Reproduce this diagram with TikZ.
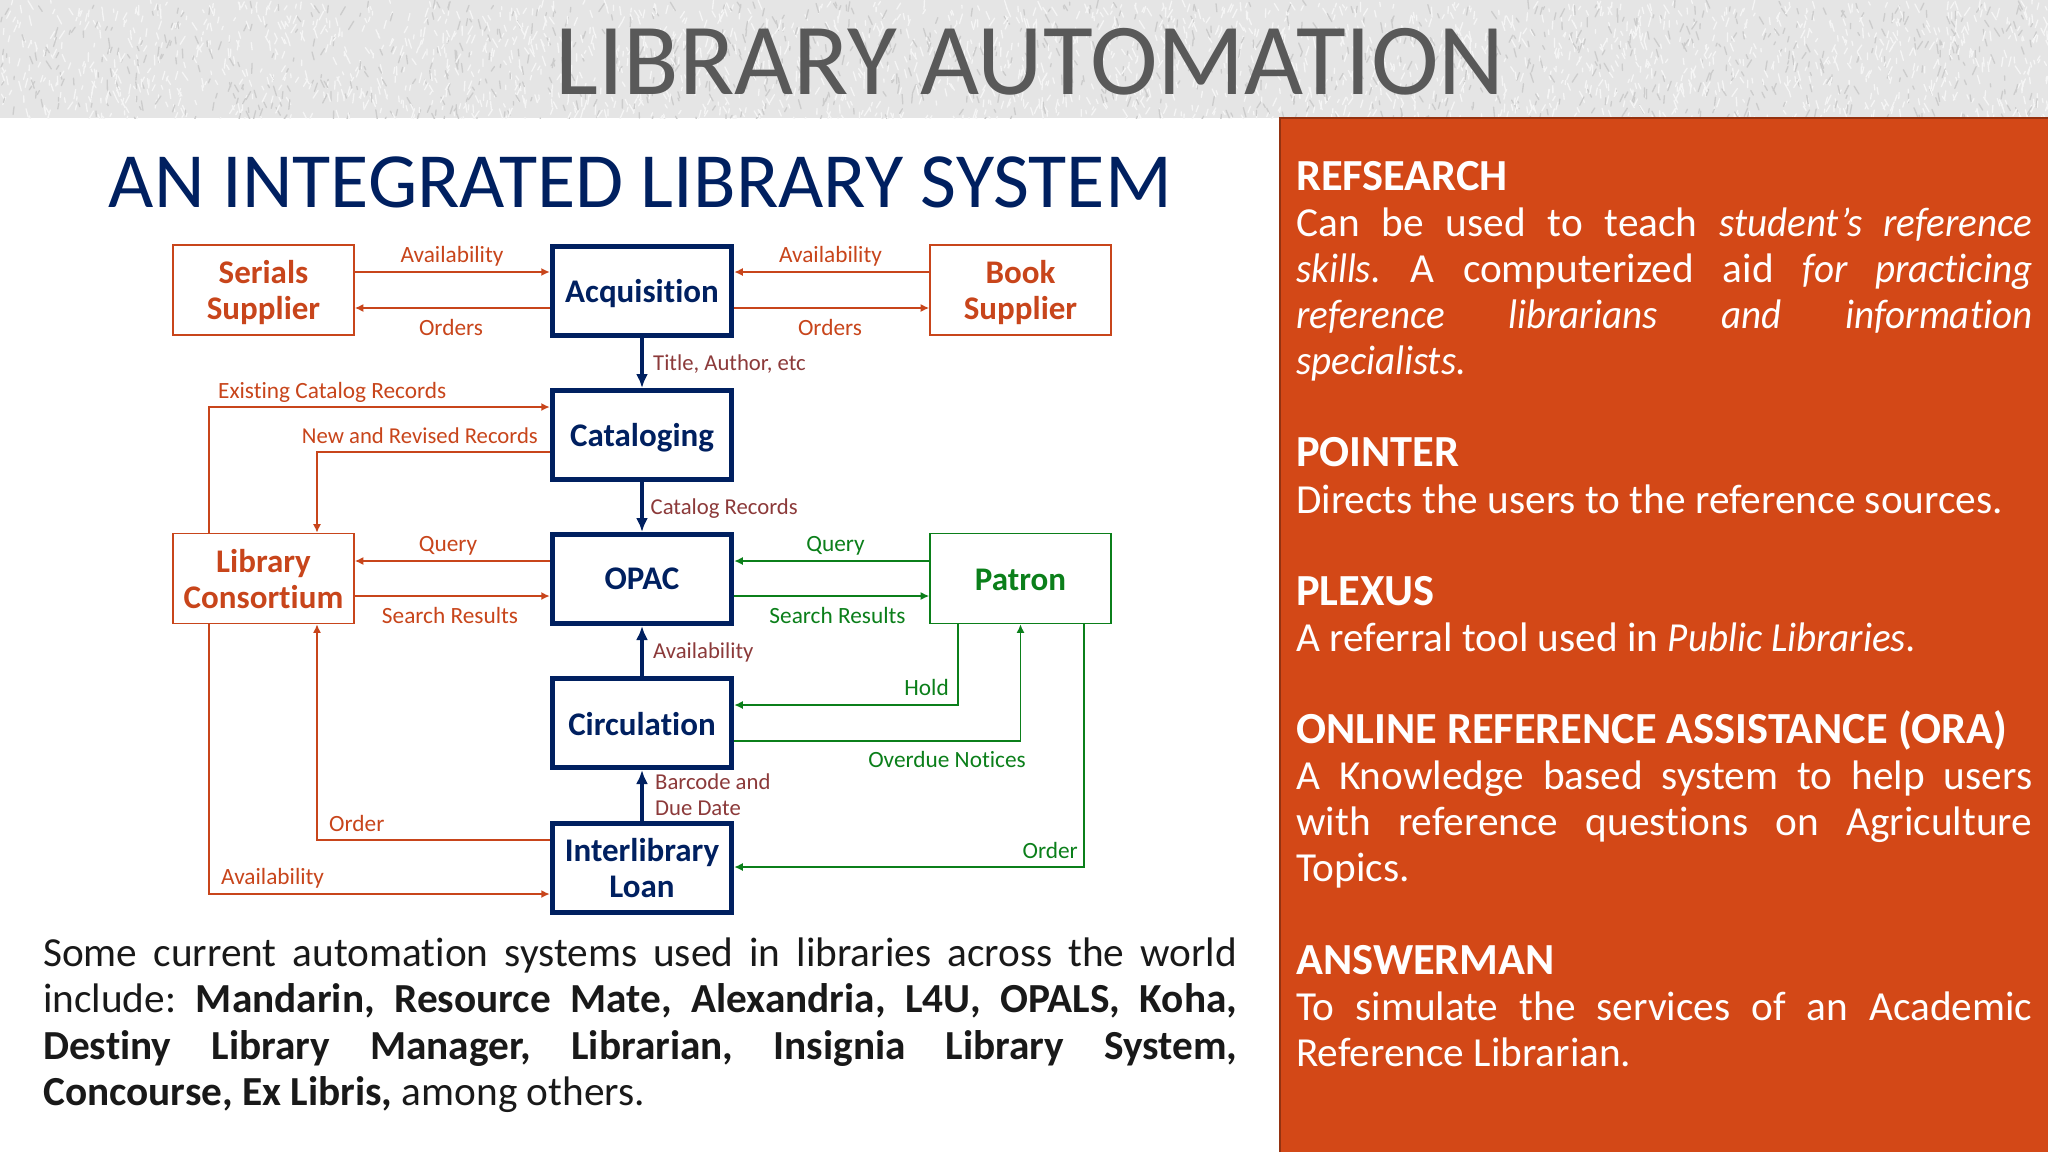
\documentclass[tikz,border=0pt]{standalone}
\usepackage{fontspec}
\setmainfont[Ligatures=NoCommon,ItalicFeatures={FakeStretch=0.945}]{Carlito}
\frenchspacing
\usetikzlibrary{arrows.meta}
\definecolor{navy}{HTML}{002060}
\definecolor{rust}{HTML}{C8451B}
\definecolor{panel}{HTML}{D34817}
\definecolor{grn}{HTML}{0B7F1A}
\definecolor{maroon}{HTML}{8C3A3A}
\definecolor{titlegray}{HTML}{595959}
\newcommand{\jl}[2][736]{\makebox[#1pt][s]{#2}}
\newcommand{\dn}[2][2.5]{\raisebox{-#1pt}[\height][\depth]{#2}}
\newcommand{\hd}[1]{{\fontsize{44.4}{46.1}\selectfont\bfseries #1}}
\tikzset{
 x=1pt,y=-1pt,
 nbox/.style={draw=navy,line width=5pt,minimum width=179.5pt,minimum height=89pt,inner sep=0pt,align=center,text=navy,font=\fontsize{33}{36}\selectfont\bfseries},
 obox/.style={draw=rust,line width=1.6pt,minimum width=181pt,minimum height=90pt,inner sep=0pt,align=center,text=rust,font=\fontsize{33}{36}\selectfont\bfseries},
 gbox/.style={draw=grn,line width=1.6pt,minimum width=181pt,minimum height=90pt,inner sep=0pt,align=center,text=grn,font=\fontsize{33}{36}\selectfont\bfseries},
 lab/.style={inner sep=0pt,font=\fontsize{23.3}{25}\selectfont},
 olab/.style={lab,text=rust},
 glab/.style={lab,text=grn},
 mlab/.style={inner sep=0pt,font=\fontsize{22.7}{25}\selectfont,text=maroon},
 oarr/.style={draw=rust,line width=1.5pt,-{Latex[length=8.5pt,width=8pt]}},
 garr/.style={draw=grn,line width=1.5pt,-{Latex[length=8.5pt,width=8pt]}},
 narr/.style={draw=navy,line width=3.5pt,-{Latex[length=14pt,width=12pt]}},
 body/.style={inner sep=0pt,align=left,anchor=north west,font=\fontsize{41.3}{46.1}\selectfont},
}
\begin{document}
\begin{tikzpicture}
\useasboundingbox (0,0) rectangle (2048,1152);
\fill[white] (0,0) rectangle (2048,1152);
% textured band
\fill[black!10] (0,0) rectangle (2048,118);
\pgfmathsetseed{42}
\begin{scope}
\clip (0,0) rectangle (2048,118);
\foreach \i in {1,...,3200}{
  \pgfmathsetmacro{\xa}{rnd*2048}
  \pgfmathsetmacro{\ya}{rnd*118}
  \pgfmathsetmacro{\ang}{55+rnd*70}
  \pgfmathsetmacro{\len}{3+rnd*7}
  \pgfmathsetmacro{\tone}{rnd>0.7 ? 20 : 4}
  \draw[black!\tone,line width=1.3pt,line cap=round] (\xa,\ya) -- ++(\ang:\len);
}
\end{scope}
\node[inner sep=0pt,text=titlegray,font=\fontsize{102}{106}\selectfont] (title) at (1030,62) {LIBRARY AUTOMATION};
% panel
\fill[panel] (1280,118) rectangle (2048,1152);
\draw[black!30!panel,line width=1.2pt] (1280,1152) -- (1280,118) -- (2048,118);
\node[inner sep=0pt,text=navy,font=\fontsize{78.2}{82}\selectfont] (head) at (640.5,182) {AN INTEGRATED LIBRARY SYSTEM};
% nodes
\node[nbox] (acq) at (642,291) {\dn{Acquisition}};
\node[nbox] (cat) at (642,435) {\dn{Cataloging}};
\node[nbox] (opac) at (642,579) {\dn[0]{OPAC}};
\node[nbox] (circ) at (642,723) {\dn[1]{Circulation}};
\node[nbox] (ill) at (642,868) {\dn[0]{Interlibrary}\\\dn[0]{Loan}};
\node[obox] (ser) at (263.5,290) {\dn{Serials}\\\dn{Supplier}};
\node[obox] (book) at (1020.5,290) {\dn{Book}\\\dn{Supplier}};
\node[obox] (cons) at (263.5,578.5) {\dn[0.5]{Library}\\\dn[0.5]{Consortium}};
\node[gbox] (pat) at (1020.5,578.5) {\dn[1]{Patron}};
% connectors
\draw[oarr] (ser.east|-0,272) -- (acq.west|-0,272);
\draw[oarr] (acq.west|-0,308) -- (ser.east|-0,308);
\draw[oarr] (book.west|-0,272) -- (acq.east|-0,272);
\draw[oarr] (acq.east|-0,308) -- (book.west|-0,308);
\draw[narr] (acq) -- (cat);
\draw[narr] (cat) -- (opac);
\draw[narr] (circ) -- (opac);
\draw[narr] (ill) -- (circ);
\draw[oarr] (cons.north-|209,0) -- (209,407) -- (cat.west|-0,407);
\draw[oarr] (cat.west|-0,452) -- (317,452) -- (cons.north-|317,0);
\draw[oarr] (opac.west|-0,561) -- (cons.east|-0,561);
\draw[oarr] (cons.east|-0,596) -- (opac.west|-0,596);
\draw[garr] (pat.west|-0,561) -- (opac.east|-0,561);
\draw[garr] (opac.east|-0,596) -- (pat.west|-0,596);
\draw[garr] (pat.south-|958,0) -- (958,705) -- (circ.east|-0,705);
\draw[garr] (circ.east|-0,741) -- (pat.south|-0,741) -- (pat.south);
\draw[garr] (pat.south-|1084,0) -- (1084,867) -- (ill.east|-0,867);
\draw[oarr] (ill.west|-0,840) -- (317,840) -- (cons.south-|317,0);
\draw[oarr] (cons.south-|209,0) -- (209,894) -- (ill.west|-0,894);
% labels
\node[olab] (l1) at (452,256) {Availability};
\node[olab] (l2) at (451,327) {Orders};
\node[olab] (l3) at (830.5,256) {Availability};
\node[olab] (l4) at (830,327) {Orders};
\node[mlab,anchor=west] (l5) at (653,364) {Title, Author, etc};
\node[olab,anchor=west] (l6) at (218,392.5) {Existing Catalog Records};
\node[olab,anchor=east,font=\fontsize{22.7}{25}\selectfont] (l7) at (538,436) {New and Revised Records};
\node[mlab,anchor=west] (l8) at (650.5,509) {Catalog Records};
\node[olab] (l9) at (448,546) {Query};
\node[glab] (l10) at (835.5,546) {Query};
\node[olab] (l11) at (450,615) {Search Results};
\node[glab] (l12) at (837.5,615) {Search Results};
\node[mlab,anchor=west] (l13) at (653,652) {Availability};
\node[glab,anchor=east] (l14) at (949,687.5) {Hold};
\node[glab] (l15) at (947,759.5) {Overdue Notices};
\node[mlab,anchor=west] (l16) at (655,782) {Barcode and};
\node[mlab,anchor=west] (l17) at (655,808) {Due Date};
\node[olab,anchor=west] (l18) at (329,823) {Order};
\node[olab,anchor=west] (l19) at (221,878) {Availability};
\node[glab,anchor=east] (l20) at (1078,850) {Order};
% right text
\node[body,text=white] (right) at (1296,161) {%
\hd{REFSEARCH}\\
\jl{Can be used to teach \textit{student’s reference}}\\
\jl{\textit{skills.} A computerized aid \textit{for practicing}}\\
\jl{\textit{reference librarians and information}}\\
\textit{specialists.}\\
\mbox{}\\
\hd{POINTER}\\
Directs the users to the reference sources.\\
\mbox{}\\
\hd{PLEXUS}\\
A referral tool used in \textit{Public Libraries.}\\
\mbox{}\\
\hd{ONLINE REFERENCE ASSISTANCE (ORA)}\\
\jl{A Knowledge based system to help users}\\
\jl{with reference questions on Agriculture}\\
Topics.\\
\mbox{}\\
\hd{ANSWERMAN}\\
\jl{To simulate the services of an Academic}\\
Reference Librarian.};
% bottom text
\node[body,text=black!90] (left) at (43,938) {%
\jl[1194]{Some current automation systems used in libraries across the world}\\
\jl[1194]{include: \textbf{Mandarin, Resource Mate, Alexandria, L4U, OPALS, Koha,}}\\
\jl[1194]{\textbf{Destiny Library Manager, Librarian, Insignia Library System,}}\\
\textbf{Concourse, Ex Libris,} among others.};
\end{tikzpicture}
\end{document}
